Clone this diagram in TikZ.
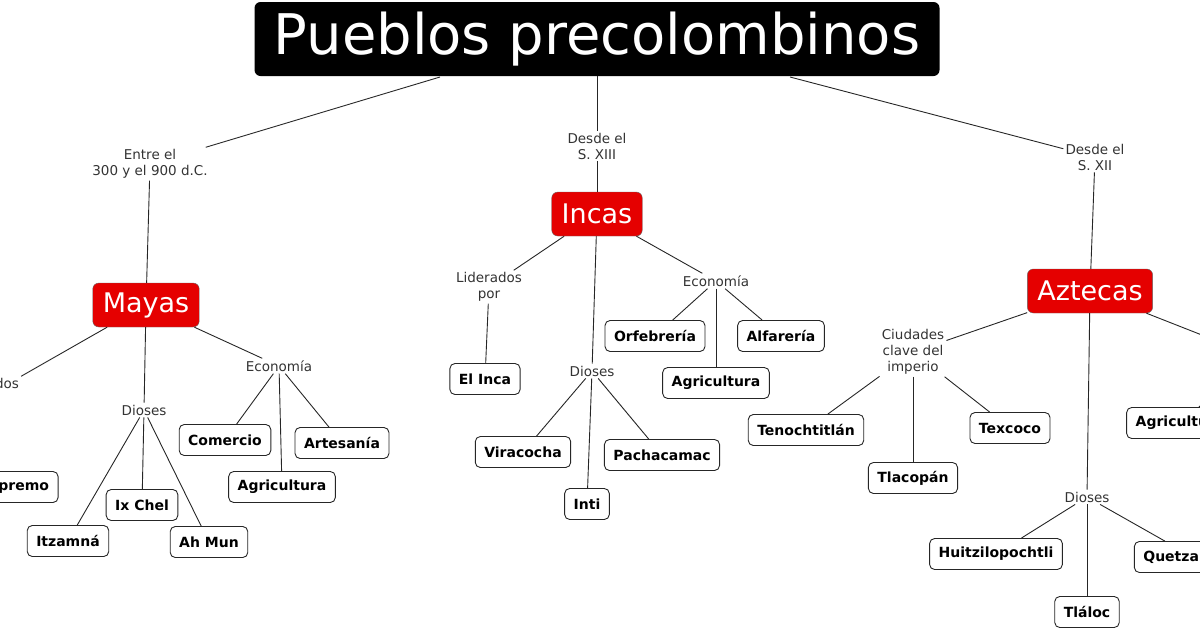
\documentclass[tikz,border=0pt]{standalone}
\usepackage{fontspec}
\setmainfont{DejaVu Sans}
\begin{document}
\begin{tikzpicture}[x=1pt,y=-1pt,
  lab/.style={font=\fontsize{13.5}{16}\selectfont, text=black!80, align=center, inner sep=2pt},
  leaf/.style={draw=black!85, line width=0.9pt, rounded corners=5pt, font=\bfseries\fontsize{14}{15}\selectfont, minimum height=31pt, inner xsep=9pt, fill=white},
  red/.style={draw=black!60, fill=red!90!black, rounded corners=6pt, text=white, font=\fontsize{27}{30}\selectfont, minimum height=44pt, inner xsep=10pt},
  ln/.style={draw=black!85, line width=0.9pt}]
\useasboundingbox (0,0) rectangle (1200,630);
\clip (0,0) rectangle (1200,630);
\node[fill=black, rounded corners=6pt, text=white, font=\fontsize{56}{60}\selectfont, minimum width=685pt, minimum height=74pt] (T) at (597,39) {Pueblos precolombinos};
% Mayas
\node[lab] (lm) at (150,164) {Entre el\\300 y el 900 d.C.};
\node[red] (M) at (146,305) {Mayas};
\node[lab] (lml) at (-14,393) {Liderados\\por};
\node[lab] (lmd) at (144,410) {Dioses};
\node[lab] (lme) at (279,366) {Economía};
\node[leaf] (m1) at (225,440) {Comercio};
\node[leaf] (m2) at (342,443) {Artesanía};
\node[leaf] (m3) at (282,487) {Agricultura};
\node[leaf] (m4) at (142,505) {Ix Chel};
\node[leaf] (m5) at (68,541) {Itzamná};
\node[leaf] (m6) at (209,542) {Ah Mun};
\node[leaf] (m7) at (-5,487) {Dios supremo};
\draw[ln] (440,77) -- (lm);
\draw[ln] (lm) -- (M);
\draw[ln] (M) -- (lml.north east);
\draw[ln] (lml) -- (m7);
\draw[ln] (M) -- (lmd);
\draw[ln] (M) -- (lme);
\draw[ln] (lme) -- (m1); \draw[ln] (lme) -- (m2); \draw[ln] (lme) -- (m3);
\draw[ln] (lmd) -- (m4); \draw[ln] (lmd) -- (m5); \draw[ln] (lmd) -- (m6);
% Incas
\node[lab] (li) at (597,146) {Desde el\\S. XIII};
\node[red] (I) at (597,214) {Incas};
\node[lab] (lil) at (489,287) {Liderados\\por};
\node[lab] (lid) at (592,371) {Dioses};
\node[lab] (lie) at (716,281) {Economía};
\node[leaf] (i1) at (485,379) {El Inca};
\node[leaf] (i2) at (523,452) {Viracocha};
\node[leaf] (i3) at (587,504) {Inti};
\node[leaf] (i4) at (662,455) {Pachacamac};
\node[leaf] (i5) at (655,336) {Orfebrería};
\node[leaf] (i6) at (781,336) {Alfarería};
\node[leaf] (i7) at (716,383) {Agricultura};
\draw[ln] (T.south -| li) -- (li);
\draw[ln] (li) -- (I);
\draw[ln] (I) -- (lil); \draw[ln] (lil) -- (i1);
\draw[ln] (I) -- (lid); \draw[ln] (I) -- (lie);
\draw[ln] (lid) -- (i2); \draw[ln] (lid) -- (i3); \draw[ln] (lid) -- (i4);
\draw[ln] (lie) -- (i5); \draw[ln] (lie) -- (i6); \draw[ln] (lie) -- (i7);
% Aztecas
\node[lab] (la) at (1095,157) {Desde el\\S. XII};
\node[red] (A) at (1090,291) {Aztecas};
\node[lab] (lac) at (913,352) {Ciudades\\clave del\\imperio};
\node[lab] (lad) at (1087,497) {Dioses};
\node[leaf] (a1) at (806,430) {Tenochtitlán};
\node[leaf] (a2) at (913,478) {Tlacopán};
\node[leaf] (a3) at (1010,428) {Texcoco};
\node[leaf] (a4) at (996,554) {Huitzilopochtli};
\node[leaf] (a5) at (1087,612) {Tláloc};
\node[leaf] (a6) at (1193,557) {Quetzalcóatl};
\node[leaf] (a7) at (1180,423) {Agricultura};
\coordinate (ae) at (1240,350);
\coordinate (ae2) at (1225,385);
\draw[ln] (790,77) -- (la);
\draw[ln] (la) -- (A);
\draw[ln] (A) -- (lac); \draw[ln] (A) -- (lad); \draw[ln] (A) -- (ae);
\draw[ln] (a7) -- (ae2);
\draw[ln] (lac) -- (a1); \draw[ln] (lac) -- (a2); \draw[ln] (lac) -- (a3);
\draw[ln] (lad) -- (a4); \draw[ln] (lad) -- (a5); \draw[ln] (lad) -- (a6);
\end{tikzpicture}
\end{document}
